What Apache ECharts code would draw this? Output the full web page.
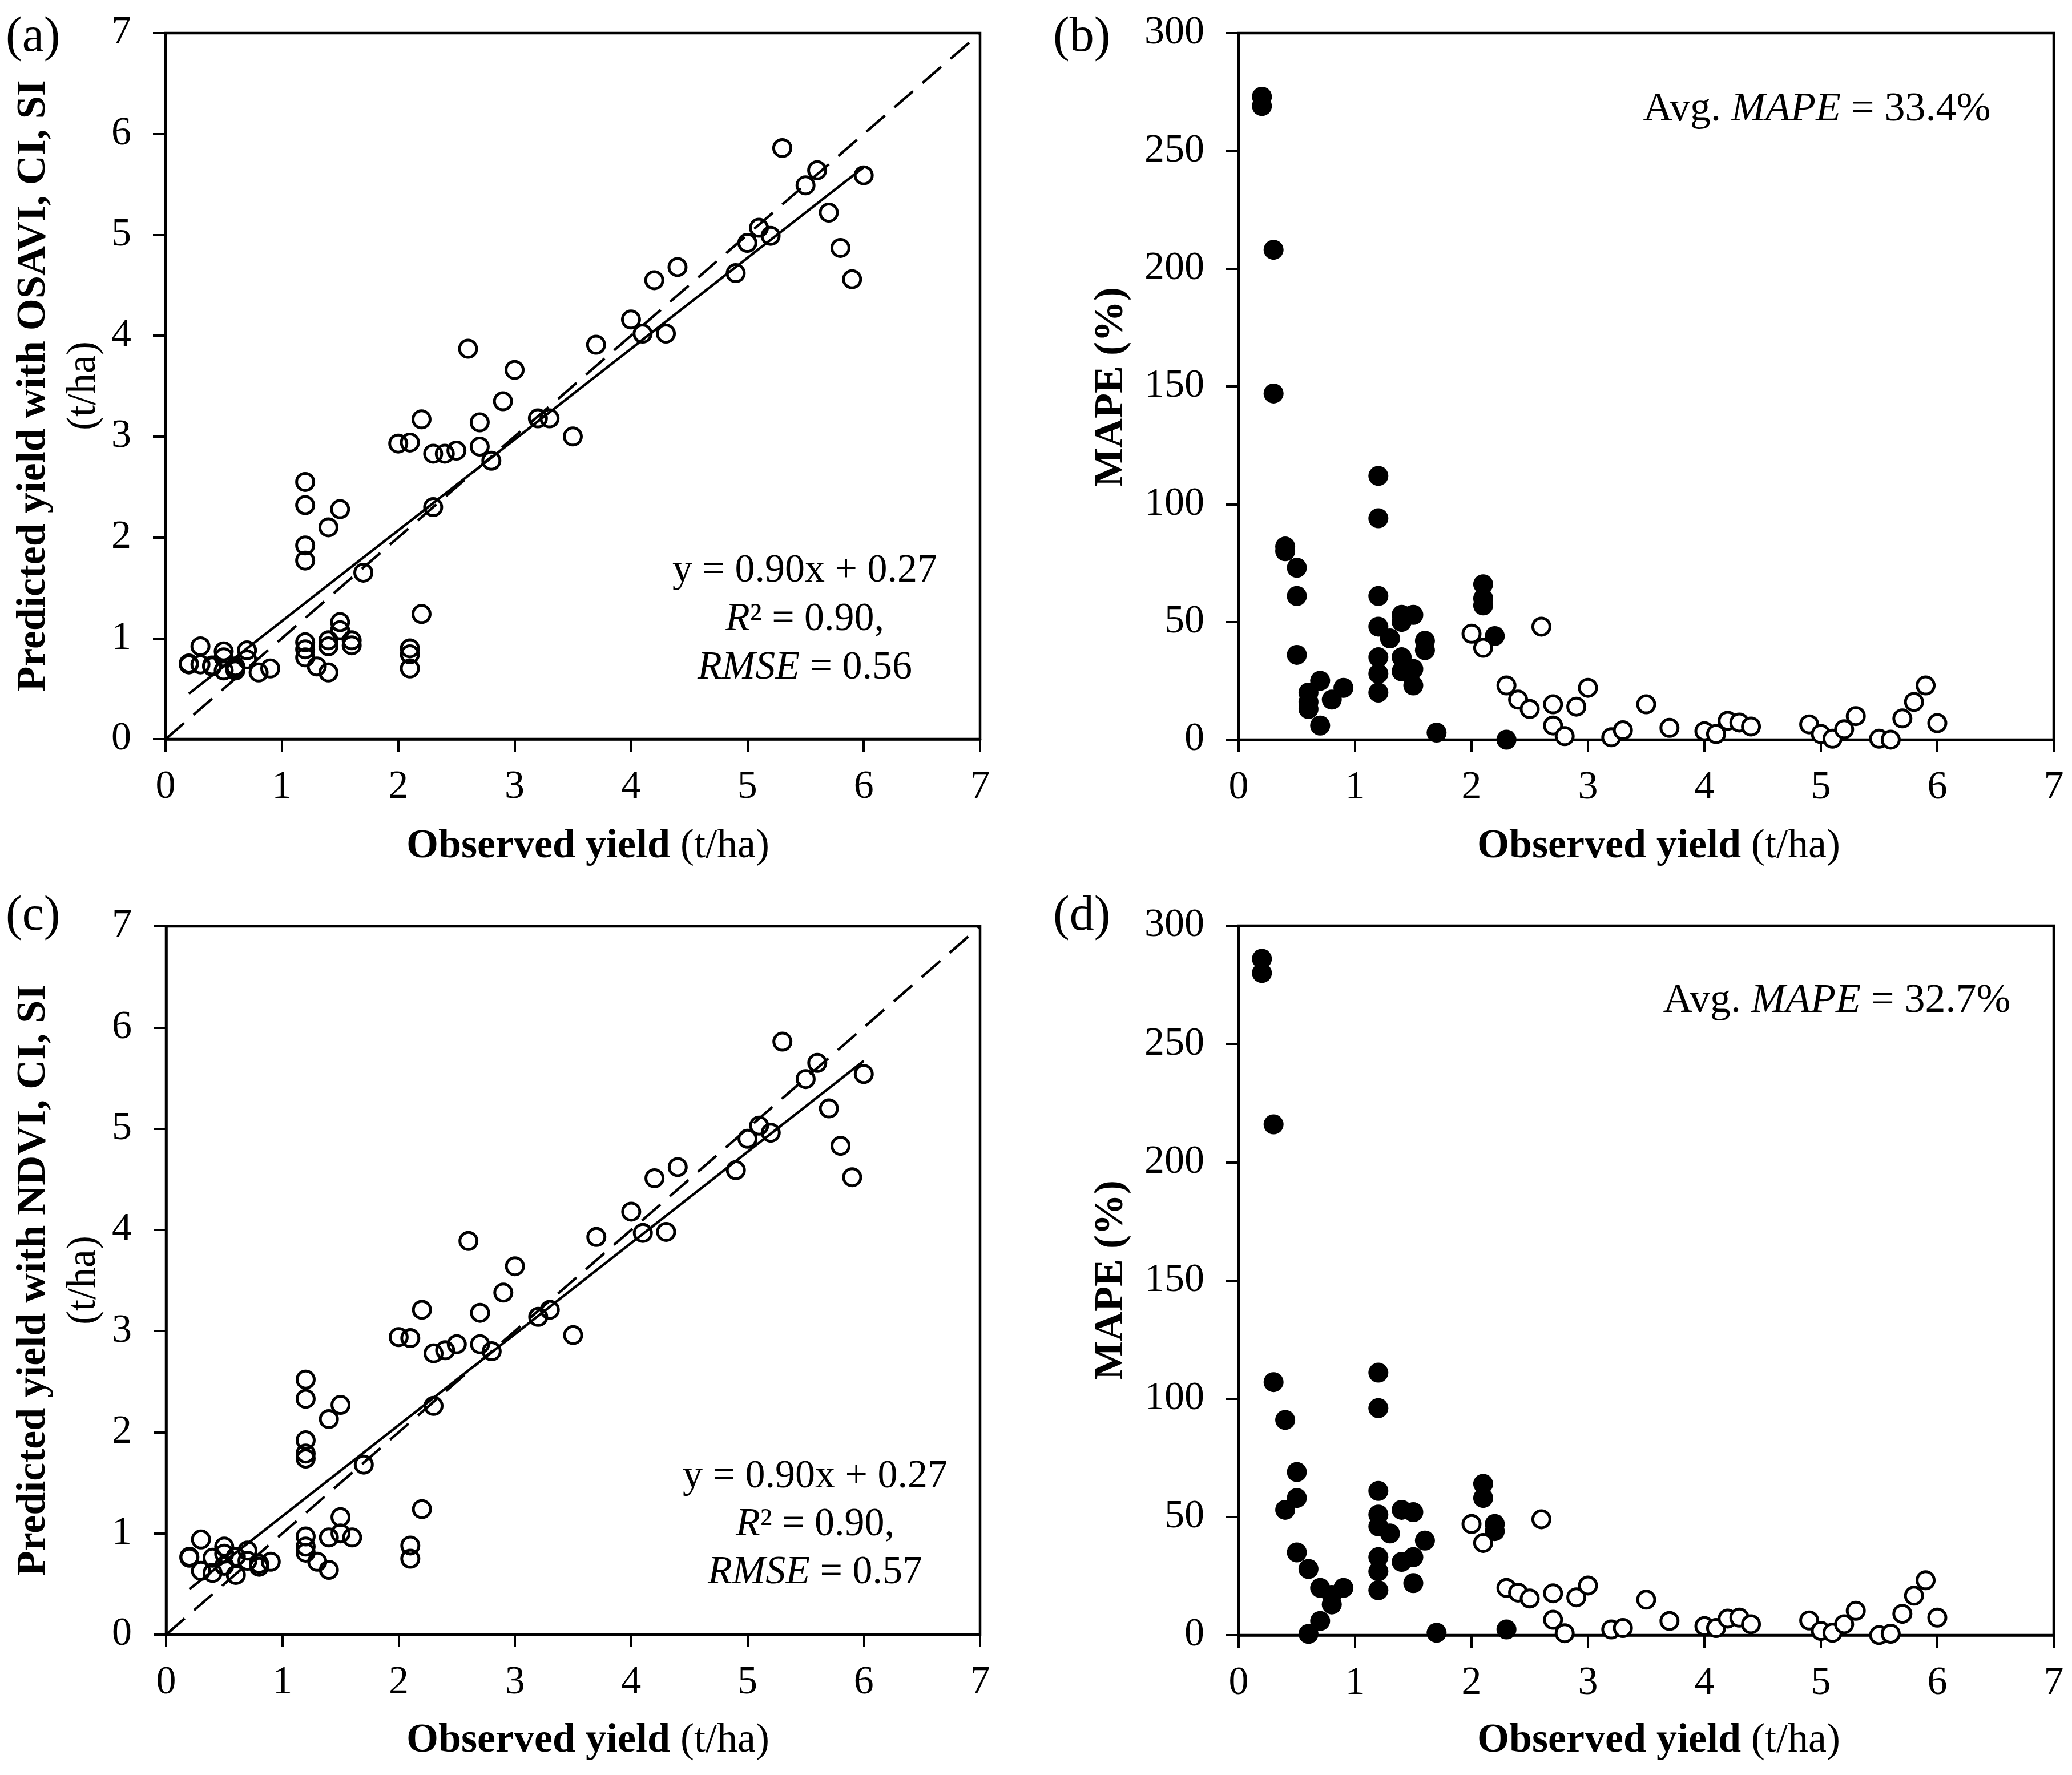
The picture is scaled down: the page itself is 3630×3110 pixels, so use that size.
<!DOCTYPE html>
<html>
<head>
<meta charset="utf-8">
<script src="https://cdn.jsdelivr.net/npm/echarts@6/dist/echarts.min.js"></script>
<style>
  html, body { margin: 0; padding: 0; background: #ffffff; }
  #chart { width: 3630px; height: 3110px; }
</style>
</head>
<body>
<div id="chart"></div>
<script>
// tick labels
const yieldTicks = [0, 1, 2, 3, 4, 5, 6, 7];
const mapeTicks = [0, 50, 100, 150, 200, 250, 300];

// (a) observed vs predicted, OSAVI + CI + SI
const panelA = [
  [0.2, 0.74], [0.2, 0.75], [0.3, 0.92], [0.3, 0.74], [0.4, 0.73], [0.4, 0.72],
  [0.5, 0.87], [0.5, 0.81], [0.5, 0.68], [0.6, 0.72], [0.6, 0.70], [0.6, 0.68],
  [0.7, 0.88], [0.7, 0.79], [0.8, 0.66], [0.9, 0.70],
  [1.2, 2.55], [1.2, 2.32], [1.2, 1.92], [1.2, 1.77], [1.2, 0.96], [1.2, 0.89],
  [1.2, 0.81], [1.3, 0.72], [1.4, 2.10], [1.4, 0.98], [1.4, 0.92], [1.4, 0.66],
  [1.5, 2.28], [1.5, 1.16], [1.5, 1.08], [1.6, 0.98], [1.6, 0.93], [1.7, 1.65],
  [2.0, 2.93], [2.1, 2.94], [2.1, 0.90], [2.1, 0.84], [2.1, 0.70], [2.2, 3.17],
  [2.2, 1.24], [2.3, 2.30], [2.3, 2.83], [2.4, 2.83], [2.5, 2.86], [2.6, 3.87],
  [2.7, 3.14], [2.7, 2.90], [2.8, 2.76], [2.9, 3.35], [3.0, 3.66],
  [3.2, 3.18], [3.3, 3.18], [3.5, 3.00], [3.7, 3.91], [4.0, 4.16], [4.1, 4.02],
  [4.2, 4.55], [4.3, 4.02], [4.4, 4.68],
  [4.9, 4.62], [5.0, 4.92], [5.1, 5.07], [5.2, 4.99], [5.3, 5.86], [5.5, 5.49],
  [5.6, 5.64], [5.7, 5.22], [5.8, 4.87], [5.9, 4.56], [6.0, 5.59]
];

// (b) MAPE, filled and open groups
const mapeB_filled = [
  [0.2, 273], [0.2, 269], [0.3, 208], [0.3, 147], [0.4, 82], [0.4, 80],
  [0.5, 73], [0.5, 61], [0.5, 36], [0.6, 20], [0.6, 16], [0.6, 13],
  [0.7, 25], [0.7, 6], [0.8, 17], [0.9, 22],
  [1.2, 112], [1.2, 94], [1.2, 61], [1.2, 48], [1.2, 35], [1.2, 28], [1.2, 20],
  [1.3, 43], [1.4, 53], [1.4, 50], [1.4, 35], [1.4, 29], [1.5, 53], [1.5, 30],
  [1.5, 23], [1.6, 42], [1.6, 38], [1.7, 3],
  [2.1, 66], [2.1, 60], [2.1, 57], [2.2, 44], [2.3, 0]
];
const mapeB_open = [
  [2.0, 45], [2.1, 39], [2.3, 23], [2.4, 17], [2.5, 13], [2.6, 48], [2.7, 15],
  [2.7, 6], [2.8, 1.5], [2.9, 14], [3.0, 22], [3.2, 1], [3.3, 4], [3.5, 15],
  [3.7, 5], [4.0, 3.6], [4.1, 2.4], [4.2, 8], [4.3, 7.3], [4.4, 5.6],
  [4.9, 6.5], [5.0, 2.4], [5.1, 0.4], [5.2, 4.4], [5.3, 10], [5.5, 0.4],
  [5.6, 0], [5.7, 9], [5.8, 16], [5.9, 23], [6.0, 7]
];

// (c) observed vs predicted, NDVI + CI + SI
const panelC = [
  [0.2, 0.76], [0.2, 0.77], [0.3, 0.94], [0.3, 0.63], [0.4, 0.76], [0.4, 0.61],
  [0.5, 0.87], [0.5, 0.80], [0.5, 0.68], [0.6, 0.77], [0.6, 0.59], [0.7, 0.83],
  [0.7, 0.73], [0.8, 0.67], [0.8, 0.70], [0.9, 0.72],
  [1.2, 2.52], [1.2, 2.33], [1.2, 1.92], [1.2, 1.79], [1.2, 1.74], [1.2, 0.97],
  [1.2, 0.87], [1.2, 0.81], [1.3, 0.72], [1.4, 2.13], [1.4, 0.96], [1.4, 0.64],
  [1.5, 2.27], [1.5, 1.16], [1.5, 1.00], [1.6, 0.96], [1.7, 1.68],
  [2.0, 2.94], [2.1, 2.93], [2.1, 0.88], [2.1, 0.75], [2.2, 3.21], [2.2, 1.24],
  [2.3, 2.26], [2.3, 2.78], [2.4, 2.81], [2.5, 2.87], [2.6, 3.89], [2.7, 3.18],
  [2.7, 2.87], [2.8, 2.80], [2.9, 3.38], [3.0, 3.64],
  [3.2, 3.14], [3.3, 3.21], [3.5, 2.96], [3.7, 3.93], [4.0, 4.18], [4.1, 3.97],
  [4.2, 4.51], [4.3, 3.98], [4.4, 4.62],
  [4.9, 4.59], [5.0, 4.90], [5.1, 5.03], [5.2, 4.96], [5.3, 5.86], [5.5, 5.49],
  [5.6, 5.65], [5.7, 5.20], [5.8, 4.83], [5.9, 4.52], [6.0, 5.54]
];

// (d) MAPE
const mapeD_filled = [
  [0.2, 286], [0.2, 280], [0.3, 216], [0.3, 107], [0.4, 91], [0.4, 53],
  [0.5, 69], [0.5, 58], [0.5, 35], [0.6, 28], [0.6, 0.5], [0.7, 20], [0.7, 6],
  [0.8, 17], [0.8, 13], [0.9, 20],
  [1.2, 111], [1.2, 96], [1.2, 61], [1.2, 51], [1.2, 46], [1.2, 33], [1.2, 27],
  [1.2, 19], [1.3, 43], [1.4, 53], [1.4, 31], [1.5, 52], [1.5, 33], [1.5, 22],
  [1.6, 40], [1.7, 1],
  [2.1, 64], [2.1, 58], [2.2, 47], [2.2, 44], [2.3, 2.4]
];
const mapeD_open = [
  [2.0, 47], [2.1, 39], [2.3, 20], [2.4, 18], [2.5, 15.5], [2.6, 49], [2.7, 17.7],
  [2.7, 6.5], [2.8, 0.8], [2.9, 16], [3.0, 21], [3.2, 2.4], [3.3, 3], [3.5, 15],
  [3.7, 6], [4.0, 3.8], [4.1, 3], [4.2, 7], [4.3, 7.4], [4.4, 4.6],
  [4.9, 6.2], [5.0, 1.8], [5.1, 1], [5.2, 4.6], [5.3, 10.3], [5.5, 0],
  [5.6, 0.6], [5.7, 9], [5.8, 16.7], [5.9, 23.2], [6.0, 7.4]
];

// fitted lines (slope, intercept) and their x range
const fitA = [0.90, 0.27];
const fitC = [0.90, 0.27];
const fitRange = [0.2, 6.0];

const FONT = "'Liberation Serif', 'Times New Roman', serif";
const TICK = 70;

const chart = echarts.init(document.getElementById('chart'), null, { renderer: 'canvas' });

function grid(left, top, width, height) {
  return {
    left: left, top: top, width: width, height: height,
    show: true, backgroundColor: 'transparent',
    borderColor: '#000', borderWidth: 4.5
  };
}

function axis(gridIndex, ticks, isX) {
  return {
    type: 'value',
    gridIndex: gridIndex,
    min: ticks[0],
    max: ticks[ticks.length - 1],
    interval: ticks[1] - ticks[0],
    axisLine: { show: true, onZero: false, lineStyle: { color: '#000', width: 4.5 } },
    axisTick: { show: true, inside: false, length: 22, lineStyle: { color: '#000', width: 4 } },
    axisLabel: { color: '#000', fontFamily: FONT, fontSize: TICK, margin: isX ? 50 : 60 },
    splitLine: { show: false }
  };
}

function fitLine(coef) {
  return fitRange.map(x => [x, coef[0] * x + coef[1]]);
}

const openStyle = { color: 'rgba(0,0,0,0)', borderColor: '#000', borderWidth: 5, opacity: 1 };
const whiteOpen = { color: '#fff', borderColor: '#000', borderWidth: 5, opacity: 1 };

function scatterPanel(idx, data) {
  return [
    {
      type: 'line', xAxisIndex: idx, yAxisIndex: idx, silent: true,
      data: [[yieldTicks[0], yieldTicks[0]], [yieldTicks[7], yieldTicks[7]]],
      symbol: 'none', lineStyle: { color: '#000', width: 4.5, type: [43, 22], opacity: 1 }, z: 2
    },
    {
      type: 'line', xAxisIndex: idx, yAxisIndex: idx, silent: true,
      data: fitLine(idx === 0 ? fitA : fitC),
      symbol: 'none', lineStyle: { color: '#000', width: 4.5, opacity: 1 }, z: 2
    },
    {
      type: 'scatter', xAxisIndex: idx, yAxisIndex: idx, data: data,
      symbol: 'circle', symbolSize: 30, itemStyle: openStyle, z: 3
    }
  ];
}

function mapePanel(idx, filled, open) {
  return [
    {
      type: 'scatter', xAxisIndex: idx, yAxisIndex: idx, data: filled,
      symbol: 'circle', symbolSize: 35, itemStyle: { color: '#000', opacity: 1 }, z: 3
    },
    {
      type: 'scatter', xAxisIndex: idx, yAxisIndex: idx, data: open,
      symbol: 'circle', symbolSize: 30, itemStyle: whiteOpen, z: 4
    }
  ];
}

function txt(x, y, text, size, opts) {
  opts = opts || {};
  const rich = {
    n: { fontFamily: FONT, fontSize: size, fill: '#000', color: '#000' },
    b: { fontFamily: FONT, fontSize: size, fontWeight: 'bold', fill: '#000', color: '#000' },
    i: { fontFamily: FONT, fontSize: size, fontStyle: 'italic', fill: '#000', color: '#000' }
  };
  const align = opts.align || 'center';
  return {
    type: 'text',
    x: x, y: y,
    rotation: opts.rotation || 0,
    silent: true,
    z: 10,
    style: {
      text: text,
      rich: rich,
      fontFamily: FONT,
      fontSize: size,
      fill: '#000',
      align: align, textAlign: align,
      verticalAlign: 'middle', textVerticalAlign: 'middle'
    }
  };
}

const R90 = Math.PI / 2;

const option = {
  animation: false,
  backgroundColor: '#ffffff',
  grid: [
    grid(290, 58, 1427, 1237),
    grid(2170, 58, 1428, 1238),
    grid(291, 1623, 1426, 1241),
    grid(2170, 1622, 1428, 1243)
  ],
  xAxis: [
    axis(0, yieldTicks, true), axis(1, yieldTicks, true),
    axis(2, yieldTicks, true), axis(3, yieldTicks, true)
  ],
  yAxis: [
    axis(0, yieldTicks, false), axis(1, mapeTicks, false),
    axis(2, yieldTicks, false), axis(3, mapeTicks, false)
  ],
  series: [].concat(
    scatterPanel(0, panelA),
    mapePanel(1, mapeB_filled, mapeB_open),
    scatterPanel(2, panelC),
    mapePanel(3, mapeD_filled, mapeD_open)
  ),
  graphic: [
    // panel letters
    txt(10, 66, '{n|(a)}', 86, { align: 'left' }),
    txt(1845, 66, '{n|(b)}', 86, { align: 'left' }),
    txt(10, 1606, '{n|(c)}', 86, { align: 'left' }),
    txt(1845, 1606, '{n|(d)}', 86, { align: 'left' }),

    // y-axis titles
    txt(59, 676, '{b|Predicted yield with OSAVI, CI, SI}', 72, { rotation: R90 }),
    txt(147, 676, '{n|(t/ha)}', 72, { rotation: R90 }),
    txt(1947, 678, '{b|MAPE} {b|(%)}', 72, { rotation: R90 }),
    txt(59, 2243, '{b|Predicted yield with NDVI, CI, SI}', 72, { rotation: R90 }),
    txt(147, 2243, '{n|(t/ha)}', 72, { rotation: R90 }),
    txt(1947, 2243, '{b|MAPE} {b|(%)}', 72, { rotation: R90 }),

    // x-axis titles
    txt(1030, 1483, '{b|Observed yield}{n| (t/ha)}', 72),
    txt(2906, 1483, '{b|Observed yield}{n| (t/ha)}', 72),
    txt(1030, 3050, '{b|Observed yield}{n| (t/ha)}', 72),
    txt(2906, 3050, '{b|Observed yield}{n| (t/ha)}', 72),

    // fit statistics
    txt(1410, 1001, '{n|y = 0.90x + 0.27}', 70),
    txt(1410, 1086, '{i|R}{n|\u00b2 = 0.90,}', 70),
    txt(1410, 1171, '{i|RMSE}{n| = 0.56}', 70),
    txt(1428, 2588, '{n|y = 0.90x + 0.27}', 70),
    txt(1428, 2672, '{i|R}{n|\u00b2 = 0.90,}', 70),
    txt(1428, 2756, '{i|RMSE}{n| = 0.57}', 70),

    txt(3183, 192, '{n|Avg. }{i|MAPE}{n| = 33.4%}', 72),
    txt(3218, 1754, '{n|Avg. }{i|MAPE}{n| = 32.7%}', 72)
  ]
};

chart.setOption(option);
</script>
</body>
</html>
